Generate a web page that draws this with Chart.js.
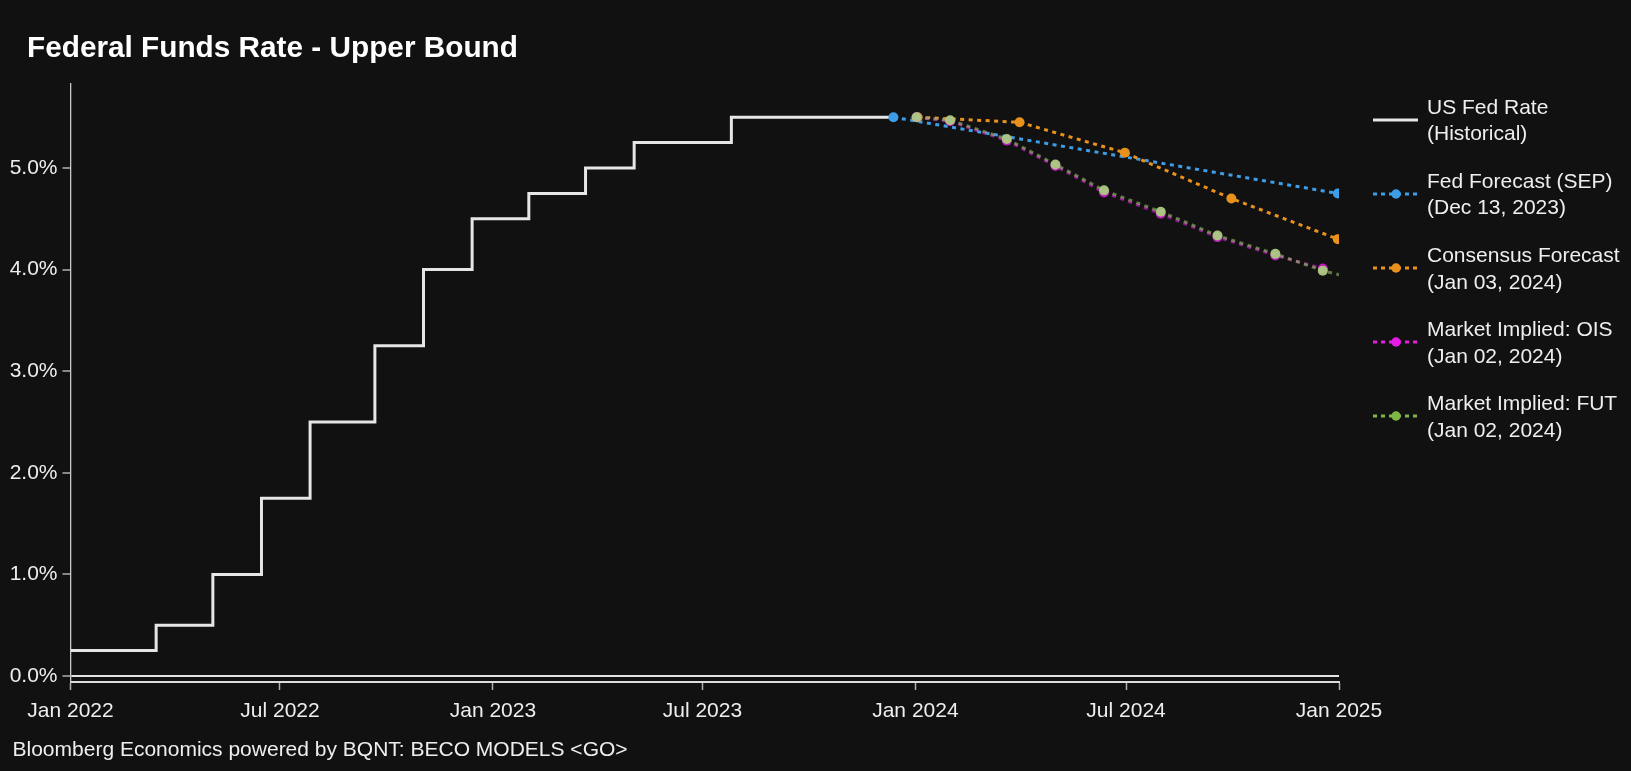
<!DOCTYPE html>
<html>
<head>
<meta charset="utf-8">
<script src="https://cdn.jsdelivr.net/npm/chart.js@4.4.1/dist/chart.umd.min.js"></script>
<style>
  html, body { margin: 0; padding: 0; background: #111111; overflow: hidden; }
  body { width: 1631px; height: 771px; position: relative; font-family: 'Liberation Sans', Arial, sans-serif; color: #eeeeee; }
  #wrap { position: absolute; left: 0; top: 0; width: 1631px; height: 771px; }
  .title { position: absolute; left: 27px; top: 31.5px; font-size: 29.75px; line-height: 29.75px; font-weight: bold; color: #ffffff; white-space: nowrap; }
  .footer { position: absolute; left: 12.5px; top: 737.5px; font-size: 21px; line-height: 21px; white-space: nowrap; }
  .item { position: absolute; left: 1373px; font-size: 21px; line-height: 26.7px; white-space: nowrap; }
  .item svg { position: absolute; left: 0; top: 20px; }
  .item .txt { position: absolute; left: 54px; top: 0; }
</style>
</head>
<body>
<div id="wrap"><canvas id="grafica" width="1631" height="771"></canvas></div>
<div class="title">Federal Funds Rate - Upper Bound</div>
<div class="footer">Bloomberg Economics powered by BQNT: BECO MODELS &lt;GO&gt;</div>
<div id="legend"></div>
<script>
// historical upper bound, one point per change
const histDates = ['2022-01-01', '2022-03-16', '2022-05-04', '2022-06-15', '2022-07-27', '2022-09-21',
  '2022-11-02', '2022-12-14', '2023-02-01', '2023-03-22', '2023-05-03', '2023-07-26', '2023-12-13'];
const histRates = [0.25, 0.50, 1.00, 1.75, 2.50, 3.25, 4.00, 4.50, 4.75, 5.00, 5.25, 5.50, 5.50];

const sepDates = ['2023-12-13', '2024-12-31'];
const sepRates = [5.50, 4.75];

const consDates = ['2024-01-03', '2024-03-31', '2024-06-30', '2024-09-30', '2024-12-31'];
const consRates = [5.50, 5.45, 5.15, 4.70, 4.30];

const oisDates = ['2024-01-02', '2024-01-31', '2024-03-20', '2024-05-01', '2024-06-12', '2024-07-31',
  '2024-09-18', '2024-11-07', '2024-12-18'];
const oisRates = [5.50, 5.46, 5.27, 5.02, 4.76, 4.55, 4.32, 4.14, 4.01];

const futDates = ['2024-01-02', '2024-01-31', '2024-03-20', '2024-05-01', '2024-06-12', '2024-07-31',
  '2024-09-18', '2024-11-07', '2024-12-18', '2025-01-29'];
const futRates = [5.50, 5.47, 5.285, 5.035, 4.78, 4.57, 4.335, 4.155, 3.99, 3.87];

const xTickDates = ['2022-01-01', '2022-07-01', '2023-01-01', '2023-07-01', '2024-01-01', '2024-07-01', '2025-01-01'];
const xTickLabels = ['Jan 2022', 'Jul 2022', 'Jan 2023', 'Jul 2023', 'Jan 2024', 'Jul 2024', 'Jan 2025'];
const yTicks = [0, 1, 2, 3, 4, 5];

const legendNames = ['US Fed Rate', 'Fed Forecast (SEP)', 'Consensus Forecast', 'Market Implied: OIS', 'Market Implied: FUT'];
const legendSubs = ['(Historical)', '(Dec 13, 2023)', '(Jan 03, 2024)', '(Jan 02, 2024)', '(Jan 02, 2024)'];
const legendColors = ['#e6e6e6', '#3d9de6', '#e8921c', '#e41ce4', '#7db547'];

const FONT = "'Liberation Sans', Arial, sans-serif";
const toMs = s => Date.parse(s + 'T00:00:00Z');
const pts = (dates, vals) => dates.map((d, i) => ({ x: toMs(d), y: vals[i] }));
const xTickMs = xTickDates.map(toMs);

// legend, drawn as html
const legend = document.getElementById('legend');
legendNames.forEach(function(name, i) {
  const top = 93.6 + i * 74.15;
  const c = legendColors[i];
  let sw;
  if (i === 0) {
    sw = '<svg width="46" height="12"><line x1="0" y1="6" x2="45" y2="6" stroke="' + c + '" stroke-width="3"/></svg>';
  } else {
    sw = '<svg width="46" height="12"><line x1="0" y1="6" x2="45" y2="6" stroke="' + c + '" stroke-width="3" stroke-dasharray="4,4"/>' +
      '<circle cx="23" cy="6" r="4.7" fill="' + c + '"/></svg>';
  }
  const div = document.createElement('div');
  div.className = 'item';
  div.style.top = top + 'px';
  div.innerHTML = sw + '<div class="txt">' + name + '<br>' + legendSubs[i] + '</div>';
  legend.appendChild(div);
});

const dotted = { borderWidth: 3, borderDash: [4, 4.5], pointRadius: 5, pointBorderWidth: 0, pointHoverRadius: 5, tension: 0, fill: false };

const ctx = document.getElementById('grafica').getContext('2d');
new Chart(ctx, {
  type: 'line',
  data: {
    datasets: [
      Object.assign({}, dotted, {
        label: 'Market Implied: FUT',
        data: pts(futDates, futRates),
        borderColor: 'rgba(150,195,105,0.6)',
        pointBackgroundColor: 'rgba(172,202,130,0.95)',
        order: 1
      }),
      Object.assign({}, dotted, {
        label: 'Market Implied: OIS',
        data: pts(oisDates, oisRates),
        borderColor: 'rgba(228,30,228,0.6)',
        pointBackgroundColor: 'rgba(228,30,228,0.8)',
        order: 2
      }),
      Object.assign({}, dotted, {
        label: 'Consensus Forecast',
        data: pts(consDates, consRates),
        borderColor: '#e8921c',
        pointBackgroundColor: '#e8921c',
        order: 3
      }),
      Object.assign({}, dotted, {
        label: 'Fed Forecast (SEP)',
        data: pts(sepDates, sepRates),
        borderColor: '#3d9de6',
        pointBackgroundColor: '#3d9de6',
        order: 4
      }),
      {
        label: 'US Fed Rate',
        data: pts(histDates, histRates),
        borderColor: '#e6e6e6',
        borderWidth: 3,
        stepped: true,
        pointRadius: 0,
        fill: false,
        order: 5
      }
    ]
  },
  options: {
    responsive: false,
    animation: false,
    devicePixelRatio: 1,
    layout: { padding: { top: 84, right: 292, left: 0, bottom: 0 } },
    plugins: {
      legend: { display: false },
      tooltip: { enabled: false }
    },
    scales: {
      x: {
        type: 'linear',
        min: toMs('2022-01-01'),
        max: toMs('2025-01-01'),
        afterBuildTicks: function(scale) {
          scale.ticks = xTickMs.map(v => ({ value: v }));
        },
        afterFit: function(scale) { scale.height = 89; },
        ticks: {
          autoSkip: false,
          maxRotation: 0,
          padding: 9,
          color: '#eeeeee',
          font: { family: FONT, size: 21 },
          callback: function(v) { return xTickLabels[xTickMs.indexOf(v)]; }
        },
        grid: { drawOnChartArea: false, tickLength: 8, tickColor: '#b0b0b0', tickWidth: 1.5 },
        border: { display: true, color: '#dddddd', width: 2 }
      },
      y: {
        min: -0.059,
        max: 5.827,
        afterBuildTicks: function(scale) {
          scale.ticks = yTicks.map(v => ({ value: v }));
        },
        afterFit: function(scale) { scale.width = 70.5; },
        ticks: {
          padding: 5,
          color: '#eeeeee',
          font: { family: FONT, size: 21 },
          callback: function(v) { return v.toFixed(1) + '%'; }
        },
        grid: {
          color: c => (c.tick && c.tick.value === 0) ? '#e2e2e2' : 'rgba(0,0,0,0)',
          lineWidth: 2,
          tickColor: '#b0b0b0',
          tickLength: 8,
          tickWidth: 1.5
        },
        border: { display: true, color: '#c8c8c8', width: 1.3 }
      }
    }
  }
});
</script>
</body>
</html>
